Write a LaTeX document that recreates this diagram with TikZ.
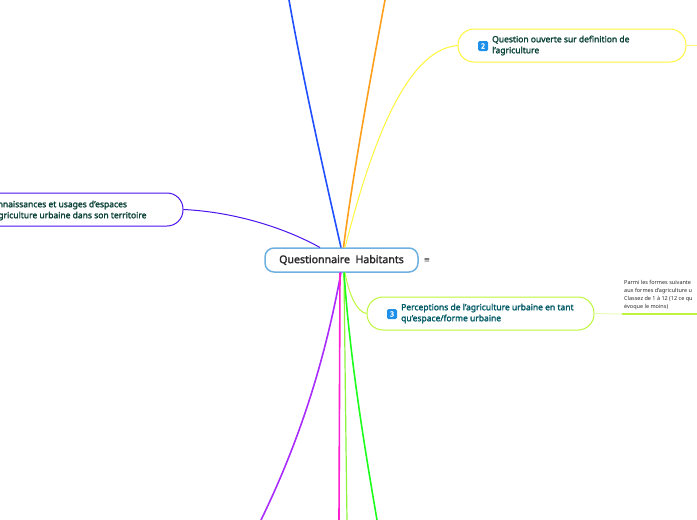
\documentclass[tikz,border=0pt]{standalone}
\usepackage{fontspec}
\setmainfont{Noto Sans}[BoldFont=Noto Sans,BoldFeatures={FakeBold=2}]
\newfontfamily\symbfont{DejaVu Sans}
\definecolor{rootline}{HTML}{6FB0DE}
\definecolor{roottext}{HTML}{2B2B2B}
\definecolor{darktext}{HTML}{0B4238}
\definecolor{tealtext}{HTML}{005A66}
\definecolor{iconblue}{HTML}{1E90EA}
\definecolor{linkblue}{HTML}{1F4FFF}
\definecolor{linkorange}{HTML}{FF9F1C}
\definecolor{linkyellow}{HTML}{FFF53B}
\definecolor{linkviolet}{HTML}{4B12EE}
\definecolor{linklime}{HTML}{BDF63A}
\definecolor{linkmagenta}{HTML}{FF1FD0}
\definecolor{linkgreen}{HTML}{1CFF1C}
\definecolor{linkleaf}{HTML}{8CF53A}
\definecolor{linkpurple}{HTML}{A92BFF}
\tikzset{
  topicbox/.style={draw,line width=1pt,rounded corners=16pt,fill=white,minimum width=#1,minimum height=33pt,inner sep=0pt},
  topictext/.style={anchor=west,align=left,inner sep=0pt,font=\bfseries\fontsize{8.5pt}{11pt}\selectfont},
  numicon/.style={fill=iconblue,rounded corners=1.5pt,minimum size=10pt,inner sep=0pt,text=white,font=\bfseries\fontsize{7pt}{7pt}\selectfont},
  smalltext/.style={anchor=south west,align=left,inner sep=0pt,font=\fontsize{5.5pt}{8pt}\selectfont},
}
\begin{document}
\begin{tikzpicture}[x=1pt,y=-1pt]
      \useasboundingbox (0,0) rectangle (697,520);
      \clip (0,0) rectangle (697,520);
      \path
      (289,0) coordinate(topblue)
      (385,0) coordinate(toporange)
      (697,45.5) coordinate(q2end)
      (261,520) coordinate(botpurple)
      (339,520) coordinate(botmagenta)
      (347,520) coordinate(botleaf)
      (377,520) coordinate(botgreen)
      (622,314) coordinate(q3mid)
      (697,314) coordinate(q3end)
      ;
      \path
      (341.5,260) node(root) [draw=rootline,line width=1.5pt,rounded corners=9pt,fill=white,minimum width=153pt,minimum height=24pt,inner sep=0pt,text=roottext,font=\bfseries\fontsize{10.6pt}{12pt}\selectfont] {Questionnaire\ \ Habitants}
      (427,260) node(menu) [inner sep=0pt,text=roottext,font=\symbfont\fontsize{7.5pt}{8pt}\selectfont] {≡}
      ;
      \path
      (572,45.5) node(q2) [topicbox=228pt,draw=linkyellow] {}
      (483,46) node(q2num) [numicon] {2}
      (492,45.5) node(q2text) [topictext,text=darktext] {Question ouverte sur definition de\\l'agriculture}
      ;
      \path
      (480.5,313.5) node(q3) [topicbox=227pt,draw=linklime] {}
      (392,314) node(q3num) [numicon] {3}
      (401,313.5) node(q3text) [topictext,text=tealtext] {Perceptions de l'agriculture urbaine en tant\\qu'espace/forme urbaine}
      ;
      \path
      (63,209.5) node(q1) [topicbox=240pt,draw=linkviolet] {}
      (-13,210.5) node(q1text) [topictext,text=darktext] {Connaissances et usages d'espaces\\d'agriculture urbaine dans son territoire}
      ;
      \path
      (624,310.5) node(q3sub) [smalltext,text=roottext] {Parmi les formes suivante\\aux formes d'agriculture u\\Classez de 1 à 12 (12 ce qu\\évoque le moins)}
      ;

      \draw[linkblue,line width=1.6pt] (341,247.5) .. controls (328,190) and (305,90) .. (topblue);
      \draw[linkorange,line width=1.6pt] (343.5,247.5) .. controls (352,180) and (370,80) .. (toporange);
      \draw[linkyellow,line width=1pt] (345,247.5) .. controls (365,170) and (400,50) .. (q2.west);
      \draw[linkyellow!70,line width=1pt] (q2.east) -- (q2end);
      \draw[linkviolet,line width=1pt] (320,247.5) .. controls (285,228) and (235,212) .. (q1.east);
      \draw[linklime,line width=1pt] (345,272.5) .. controls (349,295) and (357,312) .. (q3.west);
      \draw[linklime!35,line width=1pt] (q3.east) -- (q3mid);
      \draw[linklime,line width=1.6pt] (q3mid) -- (q3end);
      \draw[linkpurple,line width=1.6pt] (341,272.5) .. controls (325,360) and (300,440) .. (botpurple);
      \draw[linkmagenta,line width=1.6pt] (340,272.5) -- (botmagenta);
      \draw[linkleaf,line width=1.2pt] (344,272.5) .. controls (345,360) and (346,450) .. (botleaf);
      \draw[linkgreen,line width=1.6pt] (344,272.5) .. controls (350,360) and (365,450) .. (botgreen);
    \end{tikzpicture}
\end{document}
